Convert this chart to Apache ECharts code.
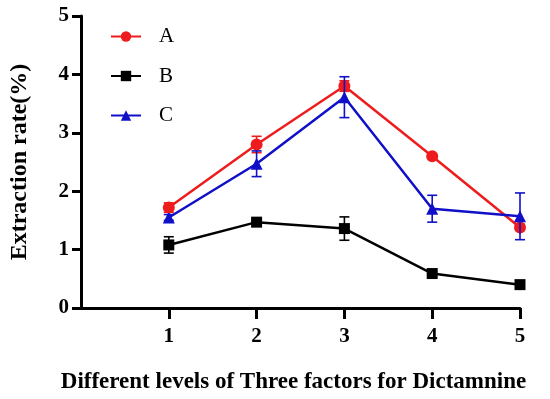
<!DOCTYPE html>
<html>
<head>
<meta charset="utf-8">
<script src="https://cdn.jsdelivr.net/npm/echarts@6/dist/echarts.min.js"></script>
<style>html,body{margin:0;padding:0;background:#fff;}#c{width:550px;height:399px;}</style>
</head>
<body>
<div id="c"></div>
<script>
const levels = [1, 2, 3, 4, 5];
const seriesNames = ['A', 'B', 'C'];
const valuesA = [1.72, 2.80, 3.80, 2.60, 1.38];
const valuesB = [1.08, 1.47, 1.36, 0.59, 0.40];
const valuesC = [1.55, 2.47, 3.61, 1.70, 1.57];
const errA = [0.08, 0.14, 0.09, 0.03, 0.05];
const errB = [0.14, 0.03, 0.20, 0.03, 0.03];
const errC = [0.05, 0.22, 0.35, 0.23, 0.40];
const yTicks = [0, 1, 2, 3, 4, 5];

const colors = ['#ee1c1c', '#000000', '#1010c8'];
const symbols = ['circle', 'rect', 'triangle'];
const vals = [valuesA, valuesB, valuesC];
const errs = [errA, errB, errC];
const FONT = 'Liberation Serif';

const chart = echarts.init(document.getElementById('c'), null, {renderer: 'canvas'});

function errRender(color) {
  return function (params, api) {
    const x = api.value(0), y = api.value(1), e = api.value(2);
    const top = api.coord([x, y + e]);
    const bot = api.coord([x, y - e]);
    const hw = 5;
    const style = {stroke: color, lineWidth: 1.6};
    return {
      type: 'group',
      children: [
        {type: 'line', shape: {x1: top[0], y1: top[1], x2: bot[0], y2: bot[1]}, style: style},
        {type: 'line', shape: {x1: top[0] - hw, y1: top[1], x2: top[0] + hw, y2: top[1]}, style: style},
        {type: 'line', shape: {x1: bot[0] - hw, y1: bot[1], x2: bot[0] + hw, y2: bot[1]}, style: style}
      ]
    };
  };
}

const series = [];
seriesNames.forEach((n, i) => {
  series.push({
    name: n,
    type: 'line',
    data: levels.map((x, k) => [x, vals[i][k]]),
    symbol: symbols[i],
    symbolSize: i === 1 ? 11 : 12,
    showSymbol: true,
    lineStyle: {color: colors[i], width: 2.5},
    itemStyle: {color: colors[i]},
    z: 3,
    animation: false
  });
  series.push({
    name: n + '_err',
    type: 'custom',
    renderItem: errRender(colors[i]),
    data: levels.map((x, k) => [x, vals[i][k], errs[i][k]]),
    z: 4,
    silent: true,
    animation: false
  });
});

chart.setOption({
  backgroundColor: '#ffffff',
  animation: false,
  grid: {left: 80, right: 30, top: 16, bottom: 91, containLabel: false},
  legend: {
    data: seriesNames,
    orient: 'vertical',
    left: 110,
    top: 26,
    padding: 0,
    itemWidth: 30,
    itemHeight: 13,
    itemGap: 18.5,
    textStyle: {fontFamily: FONT, fontSize: 21, lineHeight: 20, color: '#000', padding: [0, 0, 0, 13]}
  },
  xAxis: {
    type: 'value',
    min: 0, max: 5, interval: 1,
    name: 'Different levels of Three factors for Dictamnine',
    nameLocation: 'middle',
    nameGap: 63,
    nameTextStyle: {fontFamily: FONT, fontWeight: 'bold', fontSize: 23, color: '#000', padding: [0, 14, 0, 0]},
    splitLine: {show: false},
    axisLine: {show: true, lineStyle: {color: '#000', width: 3}},
    axisTick: {show: true, length: 11, lineStyle: {color: '#000', width: 3}, customValues: levels},
    axisLabel: {fontFamily: FONT, fontWeight: 'bold', fontSize: 21, color: '#000', margin: 18, customValues: levels}
  },
  yAxis: {
    type: 'value',
    min: 0, max: 5, interval: 1,
    name: 'Extraction rate(%)',
    nameLocation: 'middle',
    nameGap: 49,
    nameTextStyle: {fontFamily: FONT, fontWeight: 'bold', fontSize: 24, color: '#000'},
    splitLine: {show: false},
    axisLine: {show: true, lineStyle: {color: '#000', width: 3}},
    axisTick: {show: true, length: 9, lineStyle: {color: '#000', width: 3}, customValues: yTicks},
    axisLabel: {fontFamily: FONT, fontWeight: 'bold', fontSize: 21, color: '#000', margin: 12, customValues: yTicks}
  },
  series: series
});
</script>
</body>
</html>
